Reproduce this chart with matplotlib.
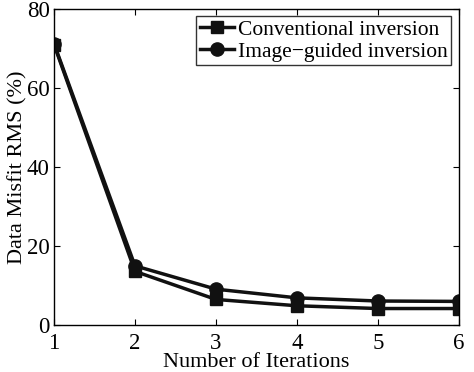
import matplotlib
matplotlib.use("Agg")
import matplotlib.pyplot as plt

# iterations and misfit values
iterations = [1, 2, 3, 4, 5, 6]
conventional = [71.0, 13.6, 6.5, 4.9, 4.2, 4.2]
image_guided = [71.2, 15.0, 9.1, 6.9, 6.1, 6.0]

plt.rcParams["font.family"] = ["Liberation Serif", "DejaVu Serif"]

fig = plt.figure(figsize=(4.74, 3.72), dpi=100)
ax = fig.add_axes([0.114, 0.126, 0.854, 0.85])

ax.plot(iterations, conventional, color="#111111", lw=2.5, marker="s",
        markersize=8.5, label="Conventional inversion")
ax.plot(iterations, image_guided, color="#111111", lw=2.5, marker="o",
        markersize=9.5, label="Image\u2212guided inversion")

ax.set_xlim(1, 6)
ax.set_ylim(0, 80)
ax.set_xticks(iterations)
ax.set_yticks([0, 20, 40, 60, 80])
ax.tick_params(direction="in", top=True, right=True, labelsize=16.5, length=4,
               width=0.8)
ax.tick_params(axis="x", pad=6)
ax.tick_params(axis="y", pad=3)
ax.set_xlabel("Number of Iterations", fontsize=16, labelpad=-1)
ax.set_ylabel("Data Misfit RMS (%)", fontsize=16, labelpad=0)
for s in ax.spines.values():
    s.set_linewidth(1.0)

leg = ax.legend(loc="upper right", fontsize=15.5, frameon=True, fancybox=False,
                edgecolor="black", handlelength=1.6, handletextpad=0.2,
                borderpad=0.15, labelspacing=0.1, borderaxespad=0.35)
leg.get_frame().set_linewidth(1.0)

fig.savefig("out.png", dpi=100)
